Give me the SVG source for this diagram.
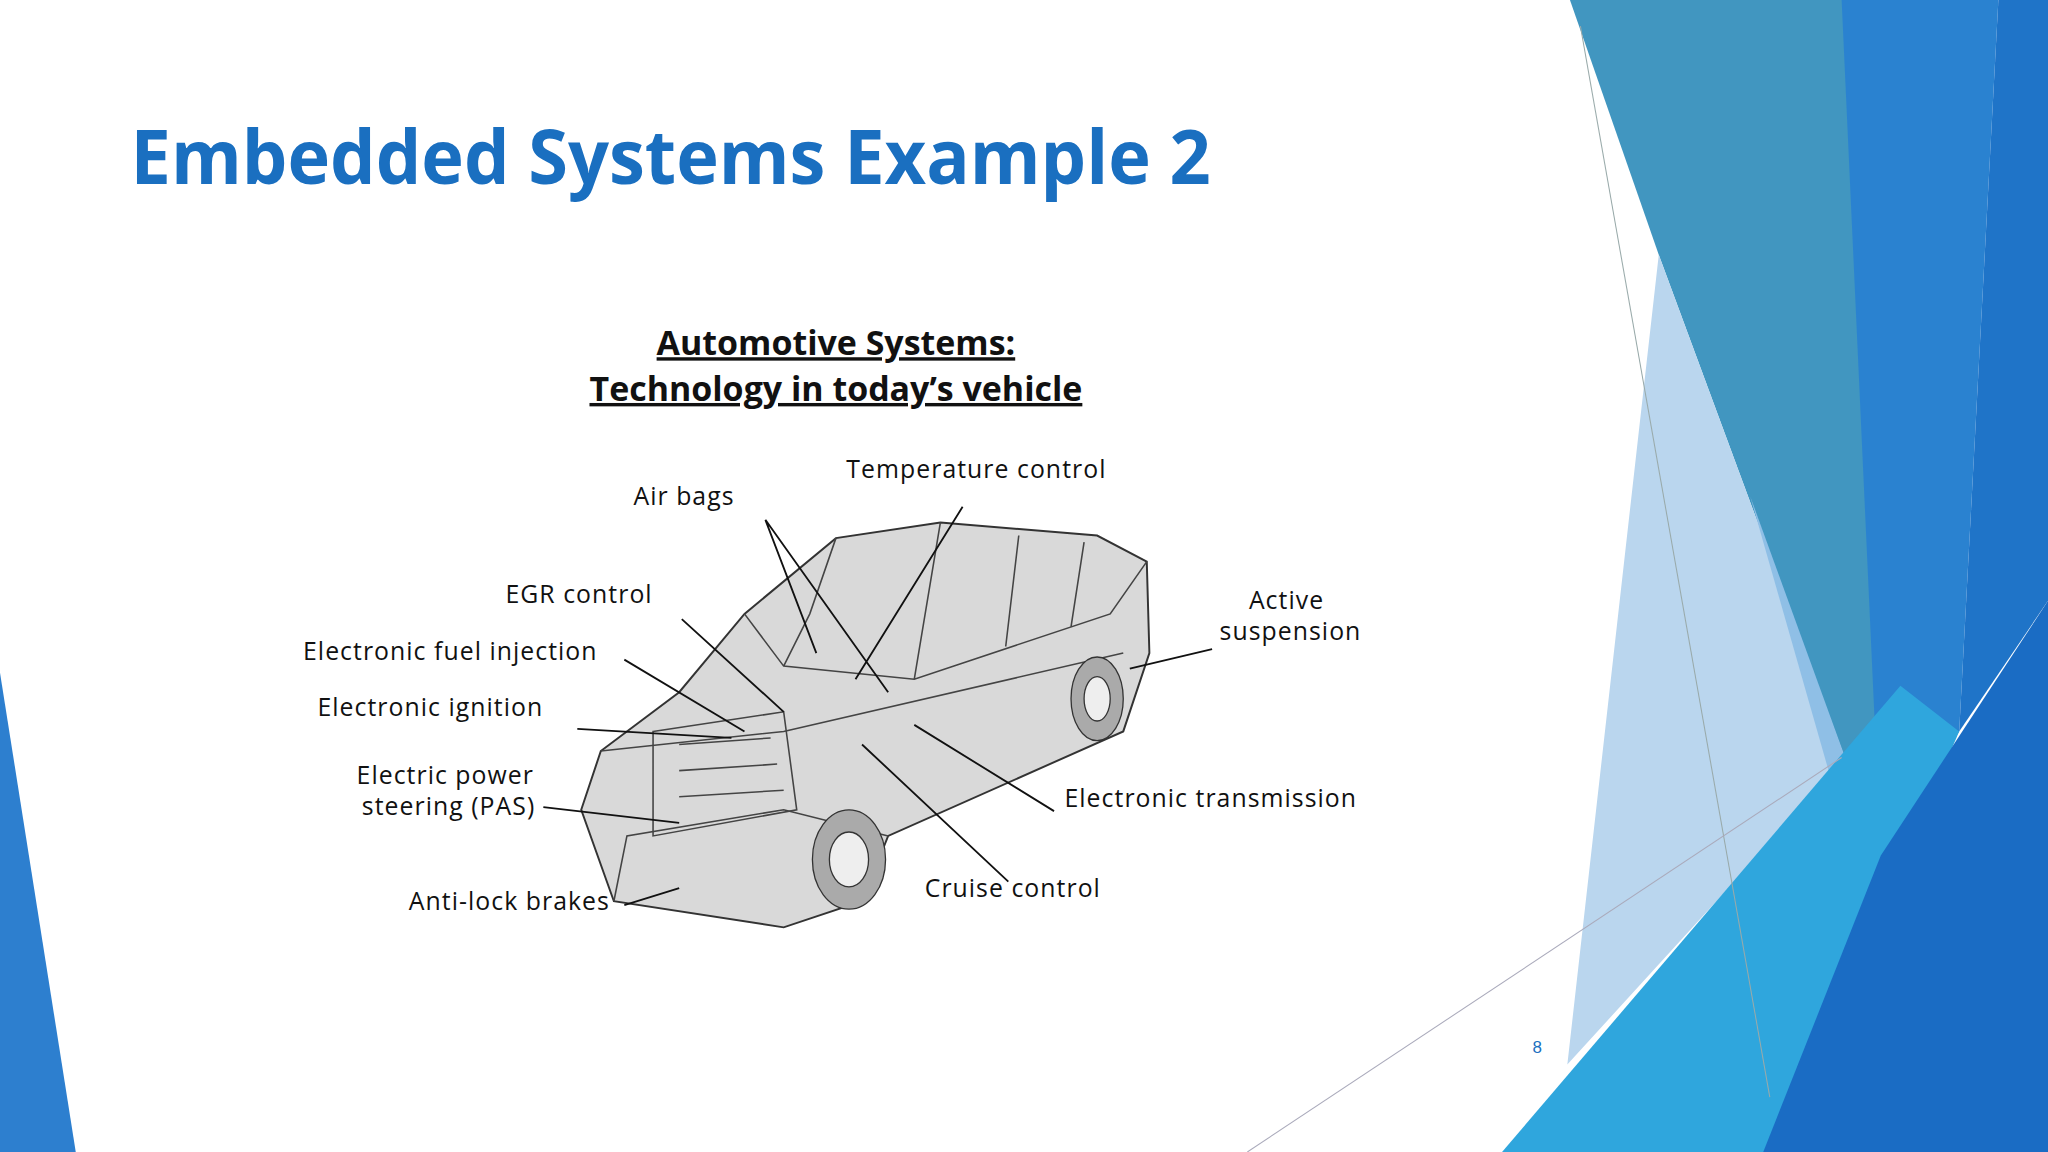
<svg xmlns="http://www.w3.org/2000/svg" width="2048" height="1152" viewBox="0 0 2048 1152">
<style>
.lbl{font-family:"Open Sans","Liberation Sans",sans-serif;font-size:19px;letter-spacing:0.8px;fill:#111}
.hd{font-family:"Open Sans","Liberation Sans",sans-serif;font-size:26px;font-weight:bold;fill:#111;text-decoration:underline;text-anchor:middle}
.ln{stroke:#111;stroke-width:1.4;fill:none}
.car{stroke:#333;stroke-width:1.5;fill:#d9d9d9}
.carl{stroke:#444;stroke-width:1.2;fill:none}
</style>
<rect width="2048" height="1152" fill="#ffffff"/>
<g transform="scale(1.30612)">
<g id="decor">
<polygon points="0,515 58,882 0,882" fill="#2d7fcf"/>
<polygon points="1202,0 1415,0 1440,655 1270,195" fill="#4196c0"/>
<polygon points="1270,195 1440,655 1410,585 1200,815" fill="#bad6ee"/>
<polygon points="1340,380 1440,655 1400,590" fill="#8fbfe6"/>
<polygon points="1410,0 1530,0 1500,560 1440,655" fill="#2a82d0"/>
<polygon points="1530,0 1568,0 1568,460 1500,560" fill="#1f74c8"/>
<polygon points="1150,882 1455,525 1500,560 1360,882" fill="#2fa6dd"/>
<polygon points="1440,655 1568,460 1568,882 1350,882" fill="#1a6cc4"/>
<line x1="1210" y1="20" x2="1355" y2="840" stroke="#9aa" stroke-width="0.8"/>
<line x1="955" y1="882" x2="1410" y2="580" stroke="#aab" stroke-width="0.8"/>
</g>
<text x="100" y="141" font-family="'Open Sans','DejaVu Sans',sans-serif" font-weight="bold" font-size="58" fill="#1a6fc0" textLength="827" lengthAdjust="spacingAndGlyphs">Embedded Systems Example 2</text>
<text x="1177" y="806" font-family="'Liberation Sans',sans-serif" font-size="13" fill="#1a6fc0" text-anchor="middle">8</text>
<g id="car">
<path class="car" d="M445,620 L460,575 L520,530 L570,470 L640,412 L720,400 L840,410 L878,430 L880,500 L860,560 L680,640 L660,690 L600,710 L470,690 Z"/>
<path class="carl" d="M570,470 L600,510 L700,520 L850,470 L878,430 M640,412 L620,470 L600,510 M720,400 L700,520 M780,410 L770,495 M830,415 L820,480"/>
<path class="carl" d="M460,575 L600,560 L860,500 M470,690 L480,640 L600,620 L680,640"/>
<ellipse cx="650" cy="658" rx="28" ry="38" fill="#aaa" stroke="#333"/>
<ellipse cx="650" cy="658" rx="15" ry="21" fill="#eee" stroke="#333"/>
<ellipse cx="840" cy="535" rx="20" ry="32" fill="#aaa" stroke="#333"/>
<ellipse cx="840" cy="535" rx="10" ry="17" fill="#eee" stroke="#333"/>
<path class="carl" d="M500,560 L600,545 L610,620 L500,640 Z M520,570 L590,565 M520,590 L595,585 M520,610 L600,605"/>
</g>
<g id="connectors">
<path class="ln" d="M586,398 L625,500 M586,398 L680,530 M737,388 L655,520 M522,474 L600,545 M478,505 L570,560 M442,558 L560,565 M416,618 L520,630 M478,693 L520,680 M928,497 L865,512 M807,621 L700,555 M772,675 L660,570"/>
</g>
<g id="titles">
<text class="hd" x="640" y="272">Automotive Systems:</text>
<text class="hd" x="640" y="307">Technology in today’s vehicle</text>
</g>
<g id="labels">
<text class="lbl" x="648" y="366">Temperature control</text>
<text class="lbl" x="485" y="387">Air bags</text>
<text class="lbl" x="387" y="462">EGR control</text>
<text class="lbl" x="232" y="505">Electronic fuel injection</text>
<text class="lbl" x="243" y="548">Electronic ignition</text>
<text class="lbl" x="273" y="600">Electric power</text>
<text class="lbl" x="277" y="624">steering (PAS)</text>
<text class="lbl" x="985" y="466" text-anchor="middle">Active</text>
<text class="lbl" x="988" y="490" text-anchor="middle">suspension</text>
<text class="lbl" x="313" y="697">Anti-lock brakes</text>
<text class="lbl" x="815" y="618">Electronic transmission</text>
<text class="lbl" x="708" y="687">Cruise control</text>
</g>
</g>
</svg>
